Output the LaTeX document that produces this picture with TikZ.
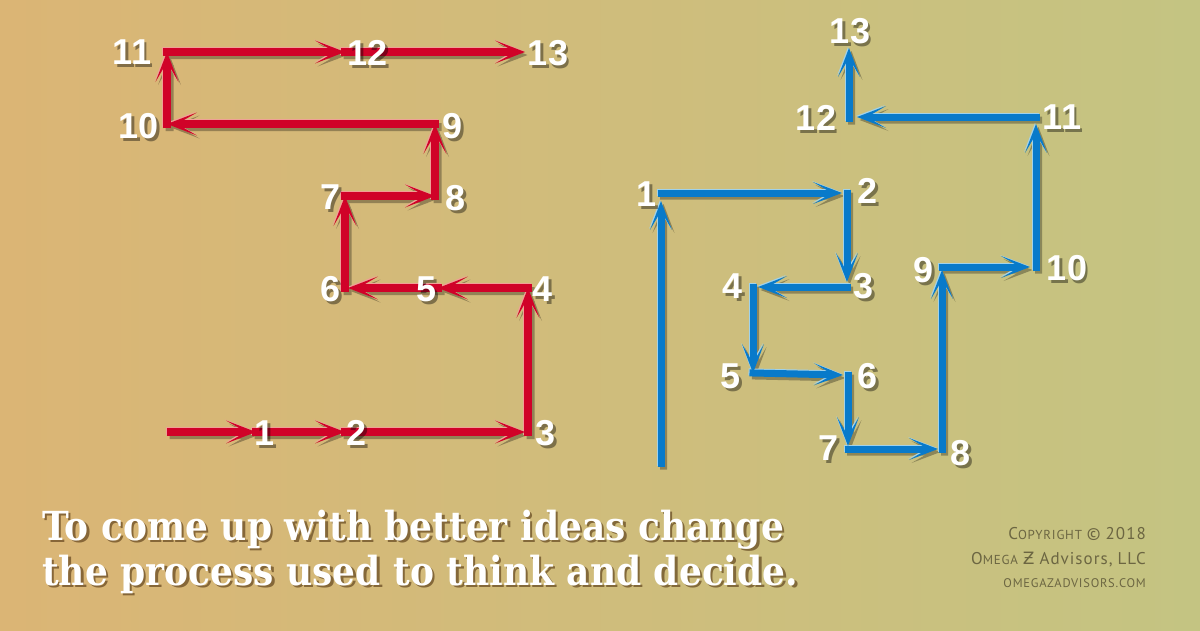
\documentclass[tikz,border=0pt]{standalone}
\usepackage{fontspec}
\setmainfont{Liberation Sans}
\newfontfamily\numfont{Liberation Sans}
\newfontfamily\slabfont{DejaVu Serif}[FakeStretch=0.9]
\newfontfamily\copyfont{PT Sans}[LetterSpace=6]
\newfontfamily\zfont{DejaVu Sans}
\usetikzlibrary{arrows.meta}
\definecolor{bgL}{RGB}{219,181,117}
\definecolor{bgM}{RGB}{211,191,122}
\definecolor{bgR}{RGB}{196,196,130}
\definecolor{rline}{RGB}{208,2,40}
\definecolor{rlight}{RGB}{240,160,150}
\definecolor{bline}{RGB}{8,122,202}
\definecolor{blight}{RGB}{160,210,235}
\definecolor{txtsh}{RGB}{80,50,15}
\definecolor{copycol}{RGB}{108,102,66}

\newcommand\myfsc[2]{{\fontsize{17}{17}\selectfont #1}{\fontsize{13}{13}\selectfont #2}}

\newcommand\redroute[1]{%
 \draw[#1] (r0)--(r1); \draw[#1] (r1)--(r2); \draw[#1] (r2)--(r3t);
 \draw[#1] (r3)--(r4); \draw[#1] (r4)--(r5); \draw[#1] (r5)--(r6t);
 \draw[#1] (r6)--(r7); \draw[#1] (r7)--(r8); \draw[#1] (r8)--(r9);
 \draw[#1] (r9)--(r10); \draw[#1] (r10)--(r11); \draw[#1] (r11)--(r12);
 \draw[#1] (r12)--(r13);}
\newcommand\blueroute[1]{%
 \draw[#1] (b0)--(b1t); \draw[#1] (b1)--(b2t); \draw[#1] (b2)--(b3t);
 \draw[#1] (b3)--(b4t); \draw[#1] (b4)--(b5); \draw[#1] (b5)--(b6t);
 \draw[#1] (b6)--(b7t); \draw[#1] (b7)--(b8t); \draw[#1] (b8)--(b9t);
 \draw[#1] (b9)--(b10t); \draw[#1] (b10)--(b11t); \draw[#1] (b11)--(b12t);
 \draw[#1] (b12)--(b13);}
\newcommand\numlab[3]{%
 \node[num, text=black, opacity=.4] (#1s) at ([shift={(2.5,3)}]#2) {#3};
 \node[num] (#1) at (#2) {#3};}

\begin{document}
\begin{tikzpicture}[x=1pt,y=-1pt,
  rarr/.style={line width=8pt, shorten <=-4pt,
    -{Stealth[length=30pt,width=23pt,inset=20pt,line width=0pt]}},
  barr/.style={line width=7pt, shorten <=-3.5pt,
    -{Stealth[length=29pt,width=22pt,inset=19pt,line width=0pt]}},
  num/.style={font=\numfont\bfseries\fontsize{36}{36}\selectfont, text=white, inner sep=0pt},
  bigtxt/.style={font=\slabfont\bfseries\fontsize{40}{40}\selectfont, inner sep=0pt, anchor=base west},
  copytxt/.style={font=\copyfont\fontsize{17}{17}\selectfont, text=copycol, inner sep=0pt, anchor=base east}]
\useasboundingbox (0,0) rectangle (1200,630);
\shade[left color=bgL, middle color=bgM, right color=bgR] (0,0) rectangle (1200,630);

% red route points
\coordinate (r0) at (171,432);
\coordinate (r1) at (256,432);
\coordinate (r2) at (345,432);
\coordinate (r3t) at (525,432);
\coordinate (r3) at (528,432);
\coordinate (r4) at (528,288);
\coordinate (r5) at (438,288);
\coordinate (r6t) at (348,288);
\coordinate (r6) at (345,288);
\coordinate (r7) at (345,196);
\coordinate (r8) at (435,196);
\coordinate (r9) at (435,124);
\coordinate (r10) at (167,124);
\coordinate (r11) at (167,52);
\coordinate (r12) at (345,52);
\coordinate (r13) at (525,52);

% blue route points
\coordinate (b0) at (661,463);
\coordinate (b1t) at (661,201);
\coordinate (b1) at (661,193);
\coordinate (b2t) at (842,193);
\coordinate (b2) at (847,193);
\coordinate (b3t) at (847,282);
\coordinate (b3) at (847,287);
\coordinate (b4t) at (758,287);
\coordinate (b4) at (753,287);
\coordinate (b5) at (753,373);
\coordinate (b6t) at (843,375);
\coordinate (b6) at (848,375);
\coordinate (b7t) at (848,446);
\coordinate (b7) at (848,449);
\coordinate (b8t) at (938,449);
\coordinate (b8) at (942,449);
\coordinate (b9t) at (942,270);
\coordinate (b9) at (942,267);
\coordinate (b10t) at (1030,267);
\coordinate (b10) at (1036,267);
\coordinate (b11t) at (1036,124);
\coordinate (b11) at (1036,117);
\coordinate (b12t) at (857,117);
\coordinate (b12) at (849,118);
\coordinate (b13) at (849,48);

% shadows
\begin{scope}[transparency group, opacity=0.3]
 \begin{scope}[transform canvas={xshift=2.5pt,yshift=-3pt}]
  \redroute{rarr,color=black}
  \blueroute{barr,color=black}
 \end{scope}
\end{scope}
% highlights
\begin{scope}[transform canvas={xshift=-1pt,yshift=1pt}]
 \redroute{rarr,color=rlight}
 \blueroute{barr,color=blight}
\end{scope}
% main lines
\redroute{rarr,color=rline}
\blueroute{barr,color=bline}

% red labels
\numlab{ra}{265,433}{1}
\numlab{rb}{357,433}{2}
\numlab{rc}{546,433}{3}
\numlab{rd}{543,289}{4}
\numlab{re}{427,289}{5}
\numlab{rf}{331,289}{6}
\numlab{rg}{331,197}{7}
\numlab{rh}{456,198}{8}
\numlab{ri}{453,126}{9}
\numlab{rj}{139,126}{10}
\numlab{rk}{132,52}{11}
\numlab{rl}{368,53}{12}
\numlab{rm}{548,53}{13}

% blue labels
\numlab{ba}{647,194}{1}
\numlab{bb}{868,191}{2}
\numlab{bc}{864,286}{3}
\numlab{bd}{733,286}{4}
\numlab{be}{731,376}{5}
\numlab{bf}{868,376}{6}
\numlab{bg}{829,448}{7}
\numlab{bh}{961,453}{8}
\numlab{bi}{924,270}{9}
\numlab{bj}{1067,268}{10}
\numlab{bk}{1062,117}{11}
\numlab{bl}{816,118}{12}
\numlab{bm}{850,31}{13}

% caption
\node[bigtxt, text=txtsh, opacity=.6] (t1s) at (44.5,542.5) {To come up with better ideas change};
\node[bigtxt, text=white] (t1) at (42,540) {To come up with better ideas change};
\node[bigtxt, text=txtsh, opacity=.6] (t2s) at (44.5,587.5) {the process used to think and decide.};
\node[bigtxt, text=white] (t2) at (42,585) {the process used to think and decide.};

% copyright
\node[copytxt] (c1) at (1146,539) {\myfsc{C}{OPYRIGHT}\hspace{5pt}©\hspace{5pt}2018};
\node[copytxt] (c2) at (1146,564) {\myfsc{O}{MEGA}\hspace{5pt}{\zfont Ƶ}\hspace{5pt}Advisors,\hspace{5pt}LLC};
\node[copytxt, font=\copyfont\fontsize{12.5}{12.5}\selectfont] (c3) at (1146,587) {OMEGAZADVISORS.COM};
\end{tikzpicture}
\end{document}
